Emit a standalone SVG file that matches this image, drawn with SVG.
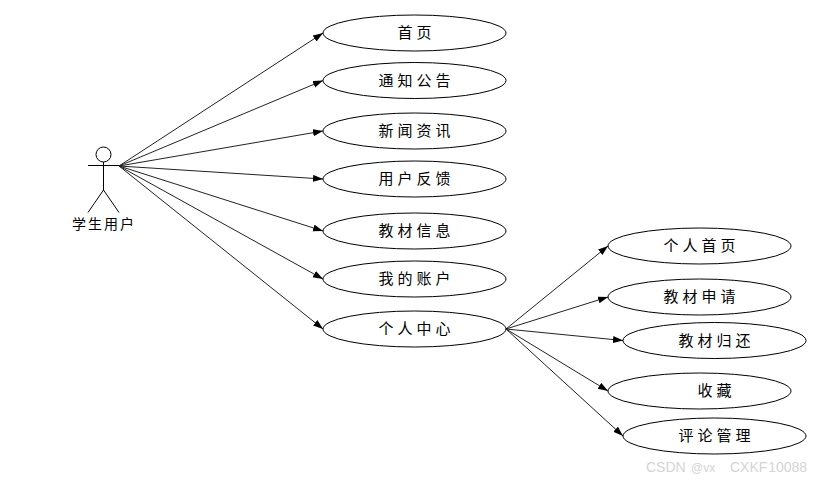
<svg xmlns="http://www.w3.org/2000/svg" width="821" height="483" viewBox="0 0 821 483">
<style>
text{font-family:"Noto Sans CJK SC","Liberation Sans",sans-serif;fill:#000}
.u{fill:#fff;stroke:#000;stroke-width:1}
.t{font-size:15px;letter-spacing:4px;text-anchor:middle}
.c line{stroke:#222;stroke-width:1;marker-end:url(#a)}
.s{fill:none;stroke:#000;stroke-width:1}
.w{font-size:14px;font-family:"Liberation Sans",sans-serif;fill:#d4d4d4}
</style>
<defs><marker id="a" markerUnits="userSpaceOnUse" markerWidth="12" markerHeight="8" refX="10" refY="3.500" orient="auto"><path d="M0 0L10 3.500L0 7Z" fill="#000"/></marker></defs>
<rect width="821" height="483" fill="#fff"/>
<g id="connectors" class="c">
<line x1="119" y1="166" x2="323" y2="33"/>
<line x1="119" y1="166" x2="323" y2="80.5"/>
<line x1="119" y1="166" x2="323" y2="131"/>
<line x1="119" y1="166" x2="323" y2="179"/>
<line x1="119" y1="166" x2="323" y2="231"/>
<line x1="119" y1="166" x2="323" y2="279"/>
<line x1="119" y1="166" x2="323" y2="329"/>
<line x1="506" y1="329" x2="608" y2="246"/>
<line x1="506" y1="329" x2="608" y2="297"/>
<line x1="506" y1="329" x2="623" y2="340.500"/>
<line x1="506" y1="329" x2="608" y2="391"/>
<line x1="506" y1="329" x2="623" y2="436"/>
</g>
<g id="actor"><circle class="s" cx="103.500" cy="154.500" r="7.500"/><path class="s" d="M103.500 162V190M88 165.500H119M103.500 190L88 212.500M103.500 190L119 212.500"/><text x="104" y="229" font-size="14" letter-spacing="2" text-anchor="middle">学生用户</text></g>
<g id="n1"><ellipse class="u" cx="414.500" cy="33" rx="91.500" ry="18"/><text class="t" x="416.500" y="38">首页</text></g>
<g id="n2"><ellipse class="u" cx="414.500" cy="80.500" rx="91.500" ry="18"/><text class="t" x="416.500" y="85.500">通知公告</text></g>
<g id="n3"><ellipse class="u" cx="414.500" cy="131" rx="91.500" ry="18"/><text class="t" x="416.500" y="136">新闻资讯</text></g>
<g id="n4"><ellipse class="u" cx="414.500" cy="179" rx="91.500" ry="18"/><text class="t" x="416.500" y="184">用户反馈</text></g>
<g id="n5"><ellipse class="u" cx="414.500" cy="231" rx="91.500" ry="18"/><text class="t" x="416.500" y="236">教材信息</text></g>
<g id="n6"><ellipse class="u" cx="414.500" cy="279" rx="91.500" ry="18"/><text class="t" x="416.500" y="284">我的账户</text></g>
<g id="n7"><ellipse class="u" cx="414.500" cy="329" rx="91.500" ry="18"/><text class="t" x="416.500" y="334">个人中心</text></g>
<g id="n8"><ellipse class="u" cx="699.500" cy="246" rx="91.500" ry="18"/><text class="t" x="701.500" y="251">个人首页</text></g>
<g id="n9"><ellipse class="u" cx="699.500" cy="297" rx="91.500" ry="18"/><text class="t" x="701.500" y="302">教材申请</text></g>
<g id="n10"><ellipse class="u" cx="714.500" cy="340.500" rx="91.500" ry="18"/><text class="t" x="716.500" y="345.500">教材归还</text></g>
<g id="n11"><ellipse class="u" cx="699.500" cy="391" rx="91.500" ry="18"/><text class="t" x="716.500" y="396">收藏</text></g>
<g id="n12"><ellipse class="u" cx="714.500" cy="436" rx="91.500" ry="18"/><text class="t" x="716.500" y="441">评论管理</text></g>
<g id="watermark"><text class="w" x="646" y="472">CSDN</text><text class="w" x="691" y="472" style="font-size:12px">@vx</text><text class="w" x="730" y="472" word-spacing="-3">CXKF 10088</text></g>
</svg>
